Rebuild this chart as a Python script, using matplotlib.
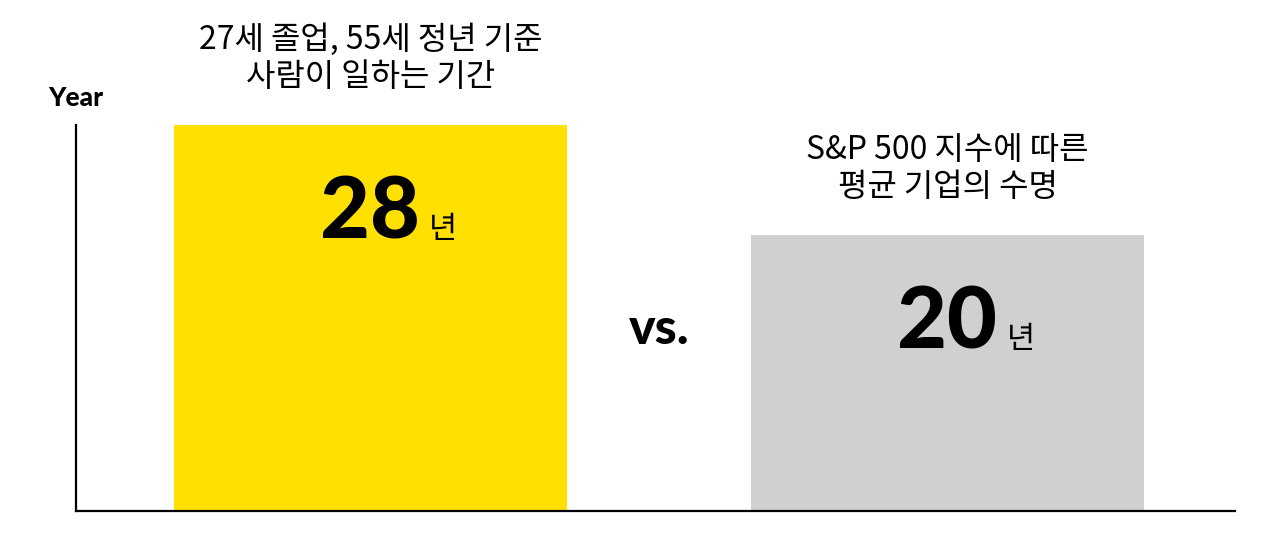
import matplotlib
matplotlib.use("Agg")
import matplotlib.pyplot as plt

plt.rcParams['font.family'] = ['Noto Sans CJK KR', 'DejaVu Sans']

# data
labels = ["27세 졸업, 55세 정년 기준\n사람이 일하는 기간", "S&P 500 지수에 따른\n평균 기업의 수명"]
values = [28, 20]
value_text = ["28", "20"]
unit = "년"
colors = ["#FFE000", "#D0D0D0"]

fig = plt.figure(figsize=(12.8, 5.44), dpi=100)
ax = fig.add_axes([76/1280, 33/544, 1159/1280, 386/544])

x = [0, 1]
ax.bar(x, values, width=0.681, color=colors)

ax.set_xlim(-0.510, 1.498)
ax.set_ylim(0, 28)
ax.set_xticks([])
ax.set_yticks([])
for s in ["top", "right"]:
    ax.spines[s].set_visible(False)
for s in ["left", "bottom"]:
    ax.spines[s].set_linewidth(1.6)
    ax.spines[s].set_color("black")

for xi, v, lab, vt in zip(x, values, labels, value_text):
    ax.text(xi, v + 2.35, lab, ha="center", va="bottom", fontsize=23,
            linespacing=1.2, clip_on=False)
    ax.text(xi + 0.085, v - 8.2, vt, ha="right", va="baseline", fontsize=62,
            fontweight="black", family=["Lato", "DejaVu Sans"])
    ax.text(xi + 0.102, v - 8.2, unit, ha="left", va="baseline", fontsize=22)

ax.text(0.5, 13.2, "vs.", ha="center", va="center", fontsize=36,
        fontweight="black", family=["Lato", "DejaVu Sans"])
ax.text(-0.51, 29.1, "Year", ha="center", va="bottom", fontsize=19,
        fontweight="black", family=["Lato", "DejaVu Sans"], clip_on=False)

fig.savefig("out.png", dpi=100)
